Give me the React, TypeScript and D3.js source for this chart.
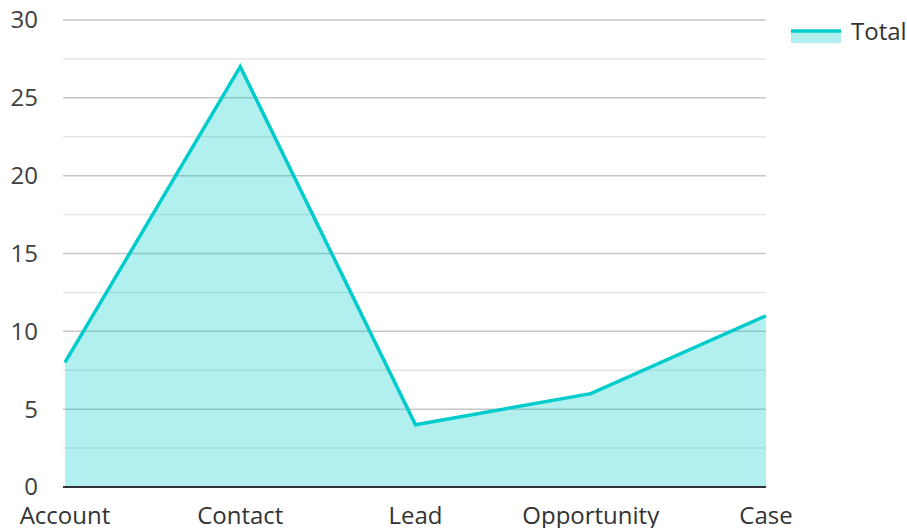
import React, { useEffect, useRef } from 'react';
import * as d3 from 'd3';

const categories = ['Account', 'Contact', 'Lead', 'Opportunity', 'Case'];
const totals = [8, 27, 4, 6, 11];
const yTicks = [0, 5, 10, 15, 20, 25, 30];
const minorTicks = [2.5, 7.5, 12.5, 17.5, 22.5, 27.5];
const seriesName = 'Total';

const LINE = '#00cccc';
const FONT = '"Open Sans", "Noto Sans", sans-serif';

const App: React.FC = () => {
  const ref = useRef<SVGSVGElement | null>(null);

  useEffect(() => {
    if (!ref.current) return;
    const width = 907;
    const height = 528;
    const margin = { top: 20, right: 141, bottom: 41, left: 65 };

    const svg = d3.select(ref.current);
    svg.selectAll('*').remove();

    const x = d3
      .scalePoint<string>()
      .domain(categories)
      .range([margin.left, width - margin.right]);
    const y = d3
      .scaleLinear()
      .domain([0, 30])
      .range([height - margin.bottom, margin.top]);

    // minor grid
    svg
      .append('g')
      .selectAll('line')
      .data(minorTicks)
      .join('line')
      .attr('x1', margin.left - 2)
      .attr('x2', width - margin.right)
      .attr('y1', (d) => y(d))
      .attr('y2', (d) => y(d))
      .attr('stroke', '#e6e6e6')
      .attr('stroke-width', 1.5);

    // major grid
    svg
      .append('g')
      .selectAll('line')
      .data(yTicks.filter((t) => t > 0))
      .join('line')
      .attr('x1', margin.left - 2)
      .attr('x2', width - margin.right)
      .attr('y1', (d) => y(d))
      .attr('y2', (d) => y(d))
      .attr('stroke', '#c6c6c6')
      .attr('stroke-width', 1.5);

    const pts = categories.map((c, i) => ({ c, v: totals[i] }));

    const area = d3
      .area<{ c: string; v: number }>()
      .x((d) => x(d.c)!)
      .y0(y(0))
      .y1((d) => y(d.v));
    svg
      .append('path')
      .datum(pts)
      .attr('d', area)
      .attr('fill', LINE)
      .attr('fill-opacity', 0.3);

    const line = d3
      .line<{ c: string; v: number }>()
      .x((d) => x(d.c)!)
      .y((d) => y(d.v));
    svg
      .append('path')
      .datum(pts)
      .attr('d', line)
      .attr('fill', 'none')
      .attr('stroke', LINE)
      .attr('stroke-width', 3.5);

    // x axis line
    svg
      .append('line')
      .attr('x1', margin.left - 2)
      .attr('x2', width - margin.right)
      .attr('y1', y(0))
      .attr('y2', y(0))
      .attr('stroke', '#333')
      .attr('stroke-width', 2);

    // y labels
    svg
      .append('g')
      .selectAll('text')
      .data(yTicks)
      .join('text')
      .attr('x', 38)
      .attr('y', (d) => y(d))
      .attr('dy', '0.35em')
      .attr('text-anchor', 'end')
      .attr('font-family', FONT)
      .attr('font-size', 24)
      .attr('fill', '#404040')
      .text((d) => d);

    // x labels
    svg
      .append('g')
      .selectAll('text')
      .data(categories)
      .join('text')
      .attr('x', (d) => x(d)!)
      .attr('y', 524)
      .attr('text-anchor', 'middle')
      .attr('font-family', FONT)
      .attr('font-size', 24)
      .attr('fill', '#333')
      .text((d) => d);

    // legend
    const lg = svg.append('g');
    lg.append('rect')
      .attr('x', 791)
      .attr('y', 31)
      .attr('width', 50)
      .attr('height', 12)
      .attr('fill', LINE)
      .attr('fill-opacity', 0.3);
    lg.append('line')
      .attr('x1', 791)
      .attr('x2', 841)
      .attr('y1', 31)
      .attr('y2', 31)
      .attr('stroke', LINE)
      .attr('stroke-width', 3.5);
    lg.append('text')
      .attr('x', 851)
      .attr('y', 40)
      .attr('font-family', FONT)
      .attr('font-size', 24)
      .attr('fill', '#333')
      .text(seriesName);
  }, []);

  return (
    <svg
      ref={ref}
      width={907}
      height={528}
      style={{ position: 'absolute', left: 0, top: 0, background: '#fff' }}
    />
  );
};

export default App;
